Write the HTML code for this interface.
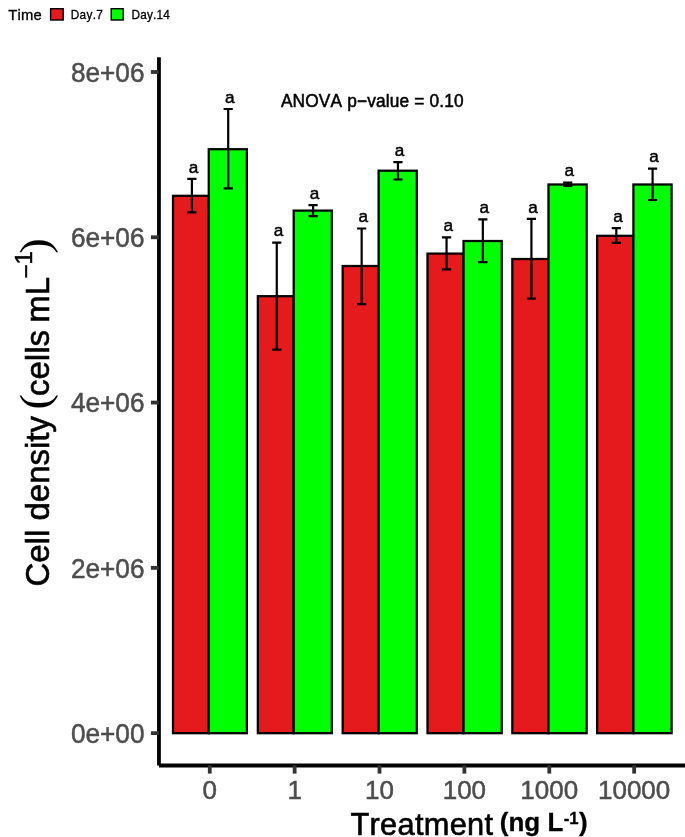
<!DOCTYPE html>
<html lang="en"><head><meta charset="utf-8"><title>Cell density</title>
<style>html,body{margin:0;padding:0;background:#fff}body{width:685px;height:837px;overflow:hidden}svg{display:block}text{font-family:"Liberation Sans",Arial,Helvetica,sans-serif;font-kerning:none}</style>
</head><body>
<svg width="685" height="837" viewBox="0 0 685 837">
<rect width="685" height="837" fill="#fff"/>
<g id="legend">
<text transform="translate(8.25,19.7) scale(1,1.03)" font-size="14.8" fill="#000" stroke="#000" stroke-width="0.35" letter-spacing="0.2">Time</text>
<rect x="50.6" y="8.7" width="12.6" height="11.3" fill="#E41A1C" stroke="#000" stroke-width="1.4"/>
<text transform="translate(70.7,18.6) scale(1,1.03)" font-size="11.8" fill="#000" stroke="#000" stroke-width="0.3" letter-spacing="0.34">Day.7</text>
<rect x="111.2" y="8.7" width="12.0" height="11.3" fill="#00FF00" stroke="#000" stroke-width="1.4"/>
<text transform="translate(131.4,18.6) scale(1,1.03)" font-size="11.8" fill="#000" stroke="#000" stroke-width="0.3" letter-spacing="0.23">Day.14</text>
</g>
<g id="bars" stroke="#000" stroke-width="2.25" stroke-linejoin="miter">
<rect x="173.00" y="195.80" width="35.75" height="537.40" fill="#E41A1C"/>
<rect x="208.75" y="149.20" width="38.10" height="584.00" fill="#00FF00"/>
<rect x="257.83" y="296.20" width="35.85" height="437.00" fill="#E41A1C"/>
<rect x="293.68" y="210.60" width="38.12" height="522.60" fill="#00FF00"/>
<rect x="342.66" y="266.00" width="35.95" height="467.20" fill="#E41A1C"/>
<rect x="378.61" y="170.70" width="38.14" height="562.50" fill="#00FF00"/>
<rect x="427.49" y="253.60" width="36.05" height="479.60" fill="#E41A1C"/>
<rect x="463.54" y="241.00" width="38.16" height="492.20" fill="#00FF00"/>
<rect x="512.32" y="259.00" width="36.15" height="474.20" fill="#E41A1C"/>
<rect x="548.47" y="184.50" width="38.18" height="548.70" fill="#00FF00"/>
<rect x="597.15" y="235.80" width="36.25" height="497.40" fill="#E41A1C"/>
<rect x="633.40" y="184.50" width="38.20" height="548.70" fill="#00FF00"/>
</g>
<g id="err" stroke="#000" stroke-width="2.2" fill="none">
<path d="M187.30 178.90H196.50M191.90 178.90V212.40M187.30 212.40H196.50"/>
<path d="M223.60 109.00H232.80M228.20 109.00V188.40M223.60 188.40H232.80"/>
<path d="M272.18 242.70H281.38M276.78 242.70V349.60M272.18 349.60H281.38"/>
<path d="M308.48 205.10H317.68M313.08 205.10V216.20M308.48 216.20H317.68"/>
<path d="M357.06 228.50H366.26M361.66 228.50V304.20M357.06 304.20H366.26"/>
<path d="M393.36 162.20H402.56M397.96 162.20V179.50M393.36 179.50H402.56"/>
<path d="M441.94 237.40H451.14M446.54 237.40V269.30M441.94 269.30H451.14"/>
<path d="M478.24 219.40H487.44M482.84 219.40V262.10M478.24 262.10H487.44"/>
<path d="M526.82 218.90H536.02M531.42 218.90V298.60M526.82 298.60H536.02"/>
<path d="M563.12 182.70H572.32M567.72 182.70V185.80M563.12 185.80H572.32"/>
<path d="M611.70 228.10H620.90M616.30 228.10V242.90M611.70 242.90H620.90"/>
<path d="M648.00 168.70H657.20M652.60 168.70V200.00M648.00 200.00H657.20"/>
</g>
<g id="letters" font-size="17.2" text-anchor="middle" fill="#000" stroke="#000" stroke-width="0.45">
<text x="193.60" y="172.60">a</text>
<text x="229.70" y="102.70">a</text>
<text x="278.48" y="236.40">a</text>
<text x="314.58" y="198.80">a</text>
<text x="363.36" y="222.20">a</text>
<text x="399.46" y="155.90">a</text>
<text x="448.24" y="231.10">a</text>
<text x="484.34" y="213.10">a</text>
<text x="533.12" y="212.60">a</text>
<text x="569.22" y="176.40">a</text>
<text x="618.00" y="221.80">a</text>
<text x="654.10" y="162.40">a</text>
</g>
<text transform="translate(280.9,106.7) scale(1,1.035)" font-size="17.3" fill="#000" stroke="#000" stroke-width="0.5" letter-spacing="0.16">ANOVA p−value = 0.10</text>
<g id="axes" stroke="#000" fill="none" stroke-linecap="butt">
<path d="M158.95 57.2V765.6" stroke-width="3.8"/>
<path d="M158.95 765.5H685" stroke-width="4.0"/>
</g>
<g id="ticks" stroke="#333" stroke-width="3.8">
<path d="M150.9 733.15H158.8"/>
<path d="M150.9 567.86H158.8"/>
<path d="M150.9 402.57H158.8"/>
<path d="M150.9 237.28H158.8"/>
<path d="M150.9 71.99H158.8"/>
<path d="M209.75 765.4V773.6"/>
<path d="M294.63 765.4V773.6"/>
<path d="M379.51 765.4V773.6"/>
<path d="M464.39 765.4V773.6"/>
<path d="M549.27 765.4V773.6"/>
<path d="M634.15 765.4V773.6"/>
</g>
<g id="ylabels" font-size="26.2" fill="#4D4D4D" stroke="#4D4D4D" stroke-width="0.5" text-anchor="end">
<text transform="translate(144.5,742.85) scale(1,1.02)">0e+00</text>
<text transform="translate(144.5,577.56) scale(1,1.02)">2e+06</text>
<text transform="translate(144.5,412.27) scale(1,1.02)">4e+06</text>
<text transform="translate(144.5,246.98) scale(1,1.02)">6e+06</text>
<text transform="translate(144.5,81.69) scale(1,1.02)">8e+06</text>
</g>
<g id="xlabels" font-size="26.0" fill="#4D4D4D" stroke="#4D4D4D" stroke-width="0.5" text-anchor="middle">
<text transform="translate(209.75,798.8) scale(1,1.02)">0</text>
<text transform="translate(294.63,798.8) scale(1,1.02)">1</text>
<text transform="translate(379.51,798.8) scale(1,1.02)">10</text>
<text transform="translate(464.39,798.8) scale(1,1.02)">100</text>
<text transform="translate(549.27,798.8) scale(1,1.02)">1000</text>
<text transform="translate(634.15,798.8) scale(1,1.02)">10000</text>
</g>
<text transform="translate(350.4,834.8) scale(1,1.02)" font-size="30.8" fill="#000" stroke="#000" stroke-width="0.6" letter-spacing="0.30">Treatment</text>
<text x="499.8" y="831.4" font-size="26" font-weight="bold" fill="#000" stroke="#000" stroke-width="0.3">(ng L<tspan font-size="16.8" dy="-7.7" dx="0.4">-1</tspan><tspan dy="7.7" dx="0.4">)</tspan></text>
<g id="ytitle" transform="translate(48.5,0) rotate(-90)" fill="#000" stroke="#000" stroke-width="0.6" font-size="33">
<text x="-586.6" y="0">Cell density</text>
<text transform="translate(-409.5,0.1) scale(1.10,1)" x="0" y="0" font-size="42.1" stroke="none" style="font-family:'Liberation Serif',serif">(</text>
<text x="-396" y="0">cells</text>
<text x="-322.8" y="0">mL</text>
<text x="-278.4" y="-14.2" font-size="24" stroke-width="0.45">−</text>
<text x="-264.4" y="-16.4" font-size="24" stroke-width="0.45">1</text>
<text transform="translate(-253.7,0.1) scale(1.10,1)" x="0" y="0" font-size="42.1" stroke="none" style="font-family:'Liberation Serif',serif">)</text>
</g>
</svg>
</body></html>
